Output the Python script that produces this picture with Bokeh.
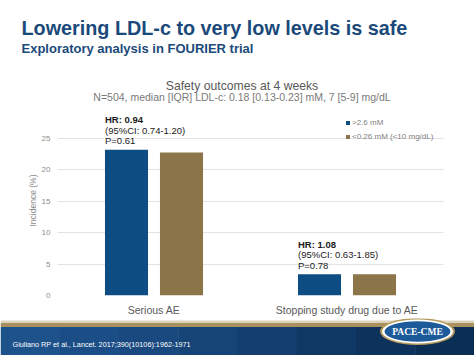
import numpy as np
from bokeh.plotting import figure
from bokeh.layouts import column
from bokeh.models import (FactorRange, Range1d, FixedTicker, ColumnDataSource,
                          Legend, LegendItem)
from bokeh.transform import dodge
from bokeh.core.properties import value
from bokeh.embed import file_html
from bokeh.resources import INLINE

# ---------------- data ----------------
categories = ["Serious AE", "Stopping study drug due to AE"]
high_ldl = [23.2, 3.4]      # >2.6 mM
low_ldl = [22.8, 3.4]       # <0.26 mM (<10 mg/dL)
series_names = [">2.6 mM", "<0.26 mM (<10 mg/dL)"]
hr_labels = ["HR: 0.94", "HR: 1.08"]
ci_labels = ["(95%CI: 0.74-1.20)", "(95%CI: 0.63-1.85)"]
p_labels = ["P=0.61", "P=0.78"]
y_ticks = [0, 5, 10, 15, 20, 25]

title_text = "Lowering LDL-c to very low levels is safe"
subtitle_text = "Exploratory analysis in FOURIER trial"
chart_title = "Safety outcomes at 4 weeks"
chart_subtitle = "N=504, median [IQR] LDL-c: 0.18 [0.13-0.23] mM, 7 [5-9] mg/dL"
y_label = "Incidence (%)"
footer_text = "Giuliano RP et al., Lancet. 2017;390(10106):1962-1971"
logo_text = "PACE-CME"

# ---------------- style ----------------
FONT = "Liberation Sans"
BLUE = "#0e4c84"
BROWN = "#8c7549"
TITLE_BLUE = "#1b4a7a"
GREY = "#595959"

W = 474
HEAD_H = 105
FOOT_TOP = 318
TOTAL_H = 355
MAIN_H = FOOT_TOP - HEAD_H


def blank_fig(h, y0, y1):
    f = figure(width=W, height=h, output_backend="svg", toolbar_location=None,
               x_range=Range1d(0, W), y_range=Range1d(y1, y0),
               x_axis_location=None, y_axis_location=None,
               min_border=0, min_border_left=0, min_border_right=0,
               min_border_top=0, min_border_bottom=0, frame_align=False)
    f.outline_line_color = None
    f.grid.grid_line_color = None
    return f


# ---------------- header ----------------
head = blank_fig(HEAD_H, 0, HEAD_H)
head.text(x=[21], y=[27.5], text=[title_text], text_font=value(FONT), text_font_style="bold",
          text_font_size="19.8px", text_color=TITLE_BLUE, text_baseline="alphabetic")
head.text(x=[21], y=[47.5], text=[subtitle_text], text_font=value(FONT), text_font_style="bold",
          text_font_size="13px", text_color=TITLE_BLUE, text_baseline="alphabetic")
head.text(x=[241.5], y=[85], text=[chart_title], text_font=value(FONT),
          text_font_size="12.2px", text_color=GREY, text_align="center",
          text_baseline="alphabetic")
head.text(x=[241.5], y=[96.5], text=[chart_subtitle], text_font=value(FONT),
          text_font_size="10.5px", text_color="#7a7a7a", text_align="center",
          text_baseline="alphabetic")

# ---------------- main chart ----------------
L, R, T, B = 57, 31, 0, 22
FH = MAIN_H - T - B

p = figure(width=W, height=MAIN_H, output_backend="svg", toolbar_location=None,
           x_range=FactorRange(*categories, range_padding=0),
           y_range=Range1d(0, FH / 6.31), frame_align=False,
           min_border_left=L, min_border_right=R, min_border_top=T, min_border_bottom=B)
p.outline_line_color = None
p.xgrid.grid_line_color = None
p.ygrid.grid_line_color = "#e3e3e3"
p.ygrid.grid_line_width = 1
p.yaxis.ticker = FixedTicker(ticks=y_ticks)

for ax in (p.xaxis[0], p.yaxis[0]):
    ax.axis_line_color = None
    ax.major_tick_line_color = None
    ax.minor_tick_line_color = None
    ax.major_tick_out = 0
    ax.major_tick_in = 0
    ax.minor_tick_out = 0
    ax.minor_tick_in = 0
    ax.major_label_text_font = FONT

p.yaxis.major_label_text_font_size = "8px"
p.yaxis.major_label_text_color = "#8c8c8c"
p.yaxis.major_label_standoff = 7
p.yaxis.axis_label = y_label
p.yaxis.axis_label_text_font = FONT
p.yaxis.axis_label_text_font_style = "normal"
p.yaxis.axis_label_text_font_size = "8.5px"
p.yaxis.axis_label_text_color = "#8c8c8c"
p.yaxis.axis_label_standoff = 1

p.xaxis.major_label_text_font_size = "10.5px"
p.xaxis.major_label_text_color = GREY
p.xaxis.major_label_standoff = 8

src = ColumnDataSource(dict(cat=categories, high=high_ldl, low=low_ldl,
                            hr=hr_labels, ci=ci_labels, pv=p_labels))

r1 = p.vbar(x=dodge("cat", -0.1425, range=p.x_range), top="high", width=0.223,
            source=src, fill_color=BLUE, line_color=None)
r2 = p.vbar(x=dodge("cat", 0.1425, range=p.x_range), top="low", width=0.223,
            source=src, fill_color=BROWN, line_color=None)

ann_x = dodge("cat", -0.254, range=p.x_range)
common = dict(source=src, text_font=value(FONT), text_font_size="9.5px",
              text_baseline="alphabetic", text_align="left", text_color="#1a1a1a")
p.text(x=ann_x, y="high", text="hr", y_offset=-30, text_font_style="bold", **common)
p.text(x=ann_x, y="high", text="ci", y_offset=-19.5, **common)
p.text(x=ann_x, y="high", text="pv", y_offset=-9, **common)

legend = Legend(items=[LegendItem(label=series_names[0], renderers=[r1]),
                       LegendItem(label=series_names[1], renderers=[r2])],
                location=(288, FH - 36.5), orientation="vertical",
                glyph_width=5, glyph_height=5, label_text_font=FONT,
                label_text_font_size="8px", label_text_color="#7f7f7f",
                label_standoff=2, label_height=9, spacing=5, padding=0, margin=0,
                border_line_color=None, background_fill_alpha=0)
p.add_layout(legend)

# ---------------- footer ----------------
foot = blank_fig(TOTAL_H - FOOT_TOP, FOOT_TOP, TOTAL_H)
foot.quad(left=[0], right=[W], top=[320], bottom=[322.5], fill_color="#dcd3bd", line_color=None)
foot.quad(left=[0], right=[W], top=[322.5], bottom=[326.5], fill_color="#a8915e", line_color=None)
band_cols = ["#1d528b", "#1b4e86", "#19497f", "#164477", "#133e6e", "#103865", "#0d325c", "#0b2e55"]
n = len(band_cols)
foot.quad(left=[W * i / n for i in range(n)], right=[W * (i + 1) / n + 0.5 for i in range(n)],
          top=[326.5] * n, bottom=[TOTAL_H + 1] * n, fill_color=band_cols, line_color=None)
foot.text(x=[12], y=[344], text=[footer_text], text_font=value(FONT), text_font_size="7.25px",
          text_color="white", text_baseline="middle")

cx, cy = 417, 331
foot.ellipse(x=[cx], y=[cy], width=[75], height=[27], fill_color="#b39a5e", line_color=None)
foot.ellipse(x=[cx], y=[cy], width=[71], height=[24], fill_color="white", line_color=None)
foot.ellipse(x=[cx], y=[cy], width=[66], height=[20.5], fill_color="#1d5a9a", line_color=None)
foot.text(x=[cx], y=[cy + 0.5], text=[logo_text], text_font=value("Liberation Serif"),
          text_font_style="bold", text_font_size="9.5px", text_color="white",
          text_align="center", text_baseline="middle")

layout = column(head, p, foot, spacing=0)
open("out.html", "w").write(file_html(layout, INLINE))
